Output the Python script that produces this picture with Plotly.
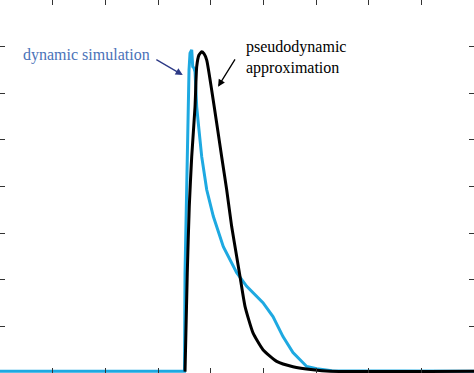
import plotly.graph_objects as go

# dynamic simulation (blue)
sim_x = [0.0, 3.503, 3.513, 3.551, 3.589, 3.608, 3.640, 3.659, 3.684, 3.703, 3.735,
         3.765, 3.830, 3.925, 4.050, 4.240, 4.494, 4.684, 4.84, 4.993, 5.183, 5.373,
         5.563, 5.70, 5.823, 6.013, 6.30, 9.0]
sim_y = [0.04, 0.04, 2.15, 4.79, 6.50, 6.86, 6.93, 6.57, 6.54, 6.46, 5.71,
         5.36, 4.64, 3.93, 3.36, 2.71, 2.15, 1.86, 1.68, 1.51, 1.21, 0.78,
         0.44, 0.27, 0.14, 0.09, 0.05, 0.04]

# pseudodynamic approximation (black)
app_x = [3.513, 3.556, 3.594, 3.640, 3.703, 3.735, 3.778, 3.830, 3.873, 3.925, 4.019,
         4.114, 4.209, 4.304, 4.399, 4.494, 4.557, 4.652, 4.804, 4.993, 5.253, 5.563,
         5.943, 6.266, 9.0]
app_y = [0.03, 2.15, 3.57, 4.64, 5.71, 6.57, 6.82, 6.89, 6.85, 6.71, 6.07,
         5.36, 4.64, 3.93, 3.14, 2.50, 2.07, 1.43, 0.86, 0.50, 0.25, 0.135,
         0.07, 0.04, 0.04]

fig = go.Figure()
fig.add_trace(go.Scatter(x=sim_x, y=sim_y, mode="lines",
                         line=dict(color="#1ea9e1", width=3), hoverinfo="skip"))
fig.add_trace(go.Scatter(x=app_x, y=app_y, mode="lines",
                         line=dict(color="#000000", width=3, shape="spline", smoothing=0.5),
                         hoverinfo="skip"))

font = dict(family="Liberation Serif, Times New Roman, serif", size=16)

fig.add_annotation(x=1.65, y=6.82, xref="x", yref="y", text="dynamic simulation",
                   showarrow=False, font=dict(font, color="#4a72b8"),
                   xanchor="center", yanchor="middle")
fig.add_annotation(x=3.47, y=6.39, ax=2.94, ay=6.74, xref="x", yref="y",
                   axref="x", ayref="y", text="", showarrow=True,
                   arrowhead=2, arrowsize=1.1, arrowwidth=1.3, arrowcolor="#2d3a86")
fig.add_annotation(x=4.64, y=6.77, xref="x", yref="y",
                   text="pseudodynamic<br>approximation", showarrow=False,
                   font=dict(font, color="#000000"), align="left",
                   xanchor="left", yanchor="middle")
fig.add_annotation(x=4.14, y=6.14, ax=4.48, ay=6.76, xref="x", yref="y",
                   axref="x", ayref="y", text="", showarrow=True,
                   arrowhead=2, arrowsize=1.1, arrowwidth=1.3, arrowcolor="#000000")

axis_common = dict(showgrid=False, zeroline=False, showline=False,
                   ticks="inside", ticklen=5, tickwidth=1, tickcolor="#333333",
                   showticklabels=False, mirror="ticks", dtick=1)
fig.update_xaxes(range=[0, 9], tick0=0, **axis_common)
fig.update_yaxes(range=[0, 8], tick0=0, **axis_common)

fig.update_layout(width=474, height=373, margin=dict(l=0, r=0, t=0, b=0),
                  paper_bgcolor="white", plot_bgcolor="white", showlegend=False)

fig.write_html("out.html", config={"displayModeBar": False},
               post_script="document.body.style.margin='0';document.body.style.overflow='hidden';")
